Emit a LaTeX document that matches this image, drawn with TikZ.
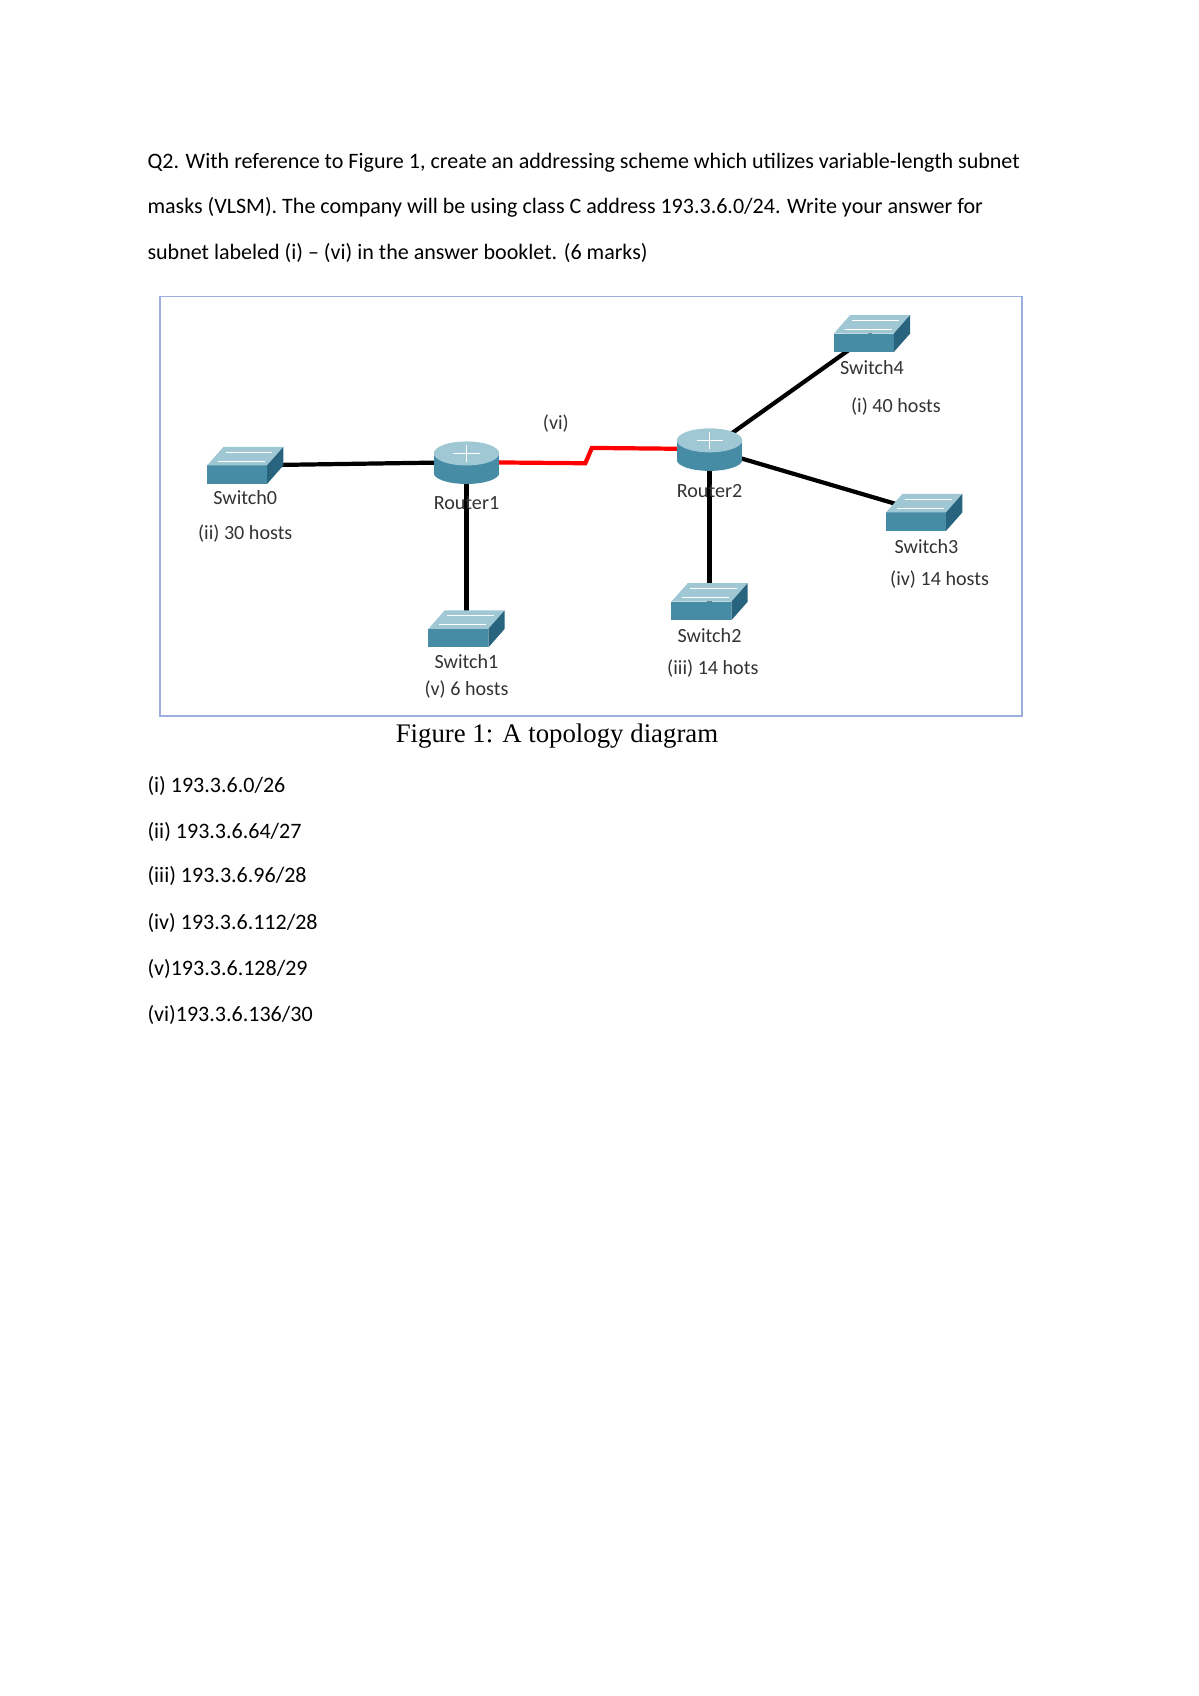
\documentclass[tikz,border=0pt]{standalone}
\usepackage{fontspec}
\setmainfont{Carlito}
\newfontfamily\capfont{Liberation Serif}
\definecolor{swfront}{RGB}{70,140,165}
\definecolor{swtop}{RGB}{160,200,212}
\definecolor{swside}{RGB}{40,100,125}
\begin{document}
\begin{tikzpicture}[x=0.02cm,y=-0.02cm,
  txt/.style={anchor=base west,inner sep=0,font=\fontsize{11.5}{14}\selectfont},
  lbl/.style={anchor=base,inner sep=0,font=\fontsize{10.5}{13}\selectfont,text=black!80},
  link/.style={line width=2.2pt,black},
  switch/.pic={
    \fill[swfront] (-35,0) rectangle (20,17);
    \fill[swtop] (-35,0)--(20,0)--(35,-17)--(-20,-17)--cycle;
    \fill[swside] (20,0)--(35,-17)--(35,0)--(20,17)--cycle;
    \draw[white,thin] (-25,-4)--(18,-4) (-18,-12)--(25,-12);
  },
  router/.pic={
    \fill[swfront] (-30,-8) rectangle (30,10);
    \fill[swfront] (0,10) ellipse (30 and 10);
    \fill[swtop] (0,-8) ellipse (30 and 11);
    \draw[white,thin] (-12,-8)--(12,-8) (0,-16)--(0,0);
  }]
\useasboundingbox (0,0) rectangle (1100,1556);
\fill[white] (0,0) rectangle (1100,1556);
\node[txt] (q1) at (135,155) {Q2. With reference to Figure 1, create an addressing scheme which utilizes variable-length subnet};
\node[txt] (q2) at (135,196) {masks (VLSM). The company will be using class C address 193.3.6.0/24. Write your answer for};
\node[txt] (q3) at (135,238) {subnet labeled (i) – (vi) in the answer booklet. (6 marks)};
\draw[cyan!40!blue!40,line width=1pt] (147,272) rectangle (938,657);
\coordinate (s0) at (225,427);
\coordinate (r1) at (428,424);
\coordinate (r2) at (651,412);
\coordinate (s4) at (800,306);
\coordinate (s3) at (848,470);
\coordinate (s1) at (428,577);
\coordinate (s2) at (651,552);
\draw[link] (s0)--(r1);
\draw[link] (r1)--(s1);
\draw[link] (r2)--(s2);
\draw[link] (r2)--(s4);
\draw[link] (r2)--(s3);
\draw[line width=2.2pt,red] (r1)--(537,425)--(543,411)--(548,411)--(r2);
\pic at (s0) {switch};
\pic at (s1) {switch};
\pic at (s2) {switch};
\pic at (s3) {switch};
\pic at (s4) {switch};
\pic at (r1) {router};
\pic at (r2) {router};
\node[lbl] (l0) at (225,463) {Switch0};
\node[lbl] (h0) at (225,495) {(ii) 30 hosts};
\node[lbl] (lr1) at (428,467) {Router1};
\node[lbl] (lr2) at (651,456) {Router2};
\node[lbl] (l4) at (800,344) {Switch4};
\node[lbl] (h4) at (822,378) {(i) 40 hosts};
\node[lbl] (l3) at (850,508) {Switch3};
\node[lbl] (h3) at (862,537) {(iv) 14 hosts};
\node[lbl] (l2) at (651,589) {Switch2};
\node[lbl] (h2) at (654,619) {(iii) 14 hots};
\node[lbl] (l1) at (428,613) {Switch1};
\node[lbl] (h1) at (428,638) {(v) 6 hosts};
\node[lbl] (v6) at (510,394) {(vi)};
\node[anchor=base,inner sep=0,font=\capfont\fontsize{14}{16}\selectfont] (cap) at (511,681) {Figure 1: A topology diagram};
\node[txt] (a1) at (135,727) {(i) 193.3.6.0/26};
\node[txt] (a2) at (135,769) {(ii) 193.3.6.64/27};
\node[txt] (a3) at (135,810) {(iii) 193.3.6.96/28};
\node[txt] (a4) at (135,853) {(iv) 193.3.6.112/28};
\node[txt] (a5) at (135,895) {(v)193.3.6.128/29};
\node[txt] (a6) at (135,937) {(vi)193.3.6.136/30};
\end{tikzpicture}
\end{document}
